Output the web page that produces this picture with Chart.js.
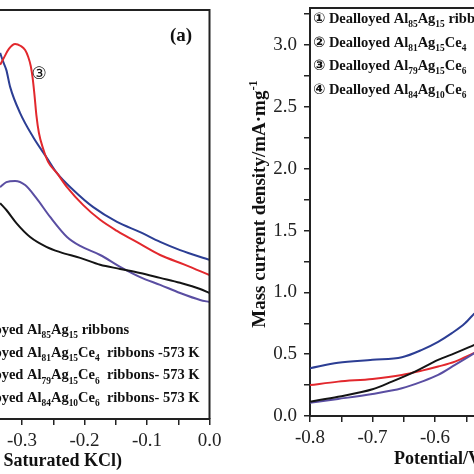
<!DOCTYPE html>
<html>
<head>
    <title>Dealloyed ribbons - polarization curves</title>
    <style>
        html, body {
            margin: 0;
            padding: 0;
            background: #fff;
            overflow: hidden;
            width: 474px;
            height: 474px;
        }

        #leftChart {
            position: absolute;
            left: 0;
            top: 0;
        }

        #rightChart {
            position: absolute;
            left: 237px;
            top: 0;
        }
    </style>
</head>
<body>
    <canvas id="leftChart" width="237" height="474"></canvas>
    <canvas id="rightChart" width="480" height="474"></canvas>

    <script src="https://cdn.jsdelivr.net/npm/chart.js"></script>
    <script>
        // ---- panel (a), left: potential (V) and current (arbitrary units, axis cropped) ----
        var aE1 = [-0.335, -0.325, -0.309, -0.287, -0.261, -0.239, -0.207, -0.175, -0.143, -0.111, -0.079, -0.047, -0.015, 0.0];
        var aJ1 = [52.8, 51.1, 47.9, 44.5, 42.1, 40.8, 39.4, 37.7, 36.7, 35.7, 34.5, 33.3, 31.8, 30.8];

        var aE2 = [-0.335, -0.325, -0.311, -0.295, -0.277, -0.255, -0.228, -0.207, -0.175, -0.143, -0.111, -0.079, -0.047, -0.015, 0.0];
        var aJ2 = [56.7, 57.9, 58.2, 57.2, 54.0, 49.4, 44.5, 42.3, 40.1, 37.2, 34.7, 32.8, 30.8, 29.1, 28.6];

        var aE3 = [-0.335, -0.329, -0.321, -0.311, -0.302, -0.295, -0.290, -0.286, -0.283, -0.280, -0.277, -0.273, -0.266, -0.258, -0.244, -0.228, -0.202, -0.175, -0.148, -0.111, -0.079, -0.039, 0.0];
        var aJ3 = [86.6, 88.3, 90.5, 91.7, 91.2, 90.2, 88.5, 86.3, 83.4, 79.2, 74.3, 70.0, 66.0, 62.8, 60.1, 56.7, 52.3, 48.7, 46.0, 42.8, 40.1, 37.7, 35.2];

        var aE4 = [-0.335, -0.330, -0.325, -0.319, -0.303, -0.282, -0.260, -0.244, -0.218, -0.186, -0.148, -0.111, -0.079, -0.047, 0.0];
        var aJ4 = [89.5, 87.3, 85.3, 81.2, 74.8, 68.9, 63.8, 60.1, 56.0, 51.8, 48.2, 45.7, 43.3, 41.3, 38.9];

        var leftTicks = [-0.3, -0.25, -0.2, -0.15, -0.1, -0.05, 0.0];
        var leftTickLabels = ['-0.3', '', '-0.2', '', '-0.1', '', '0.0'];

        // ---- right panel: mass current density (mA/mg) vs potential (V) ----
        var bE1 = [-0.8, -0.755, -0.70, -0.669, -0.632, -0.595, -0.568, -0.537];
        var bJ1 = [0.116, 0.156, 0.216, 0.278, 0.359, 0.454, 0.508, 0.575];

        var bE2 = [-0.8, -0.755, -0.70, -0.653, -0.621, -0.595, -0.568, -0.537];
        var bJ2 = [0.108, 0.138, 0.178, 0.224, 0.278, 0.332, 0.413, 0.508];

        var bE3 = [-0.8, -0.755, -0.70, -0.653, -0.621, -0.595, -0.568, -0.537];
        var bJ3 = [0.25, 0.278, 0.30, 0.332, 0.367, 0.40, 0.44, 0.51];

        var bE4 = [-0.8, -0.755, -0.70, -0.653, -0.621, -0.595, -0.573, -0.552, -0.537];
        var bJ4 = [0.386, 0.43, 0.454, 0.475, 0.535, 0.60, 0.67, 0.75, 0.83];

        var rightXTicks = [-0.8, -0.75, -0.7, -0.65, -0.6, -0.55, -0.5, -0.45, -0.4, -0.35, -0.3, -0.25, -0.2];
        var rightXLabels = ['-0.8', '', '-0.7', '', '-0.6', '', '-0.5', '', '-0.4', '', '-0.3', '', '-0.2'];
        var rightYTicks = [0, 0.25, 0.5, 0.75, 1.0, 1.25, 1.5, 1.75, 2.0, 2.25, 2.5, 2.75, 3.0, 3.25];
        var rightYLabels = ['0.0', '', '0.5', '', '1.0', '', '1.5', '', '2.0', '', '2.5', '', '3.0', ''];

        var seriesColors = ['#141414', '#5a4ea2', '#e2282d', '#2c3e94'];
        var seriesNames = [
            '\u2460 Dealloyed Al_{85}Ag_{15} ribbons',
            '\u2461 Dealloyed Al_{81}Ag_{15}Ce_{4}  ribbons -573 K',
            '\u2462 Dealloyed Al_{79}Ag_{15}Ce_{6}  ribbons- 573 K',
            '\u2463 Dealloyed Al_{84}Ag_{10}Ce_{6}  ribbons- 573 K'
        ];
        var xTitle = 'Potential/V (vs. Saturated KCl)';
        var yTitle = 'Mass current density/mA\u00b7mg^{-1}';

        var serif = "'Liberation Serif', 'Times New Roman', 'DejaVu Sans', 'Noto Sans CJK SC', serif";

        function pts(xs, ys) {
            return xs.map(function (x, i) { return { x: x, y: ys[i] }; });
        }

        function line(xs, ys, color) {
            return {
                data: pts(xs, ys),
                borderColor: color,
                borderWidth: 2,
                pointRadius: 0,
                fill: false,
                cubicInterpolationMode: 'monotone'
            };
        }

        // text with _{sub} and ^{sup} parts
        function richParts(str) {
            return str.split(/(_\{[^}]*\}|\^\{[^}]*\})/).filter(function (p) { return p; }).map(function (p) {
                if (p[0] === '_') return { t: p.slice(2, -1), m: 1 };
                if (p[0] === '^') return { t: p.slice(2, -1), m: -1 };
                return { t: p, m: 0 };
            });
        }

        function richWidth(ctx, str, size, bold) {
            var w = 0;
            richParts(str).forEach(function (p) {
                ctx.font = (bold ? 'bold ' : '') + (p.m ? size * 0.65 : size) + 'px ' + serif;
                w += ctx.measureText(p.t).width;
            });
            return w;
        }

        function drawRich(ctx, str, x, y, size, bold) {
            ctx.textAlign = 'left';
            ctx.textBaseline = 'alphabetic';
            richParts(str).forEach(function (p) {
                ctx.font = (bold ? 'bold ' : '') + (p.m ? size * 0.65 : size) + 'px ' + serif;
                var dy = p.m === 1 ? size * 0.3 : (p.m === -1 ? -size * 0.42 : 0);
                ctx.fillText(p.t, x, y + dy);
                x += ctx.measureText(p.t).width;
            });
            return x;
        }

        function frame(ctx, area) {
            ctx.save();
            ctx.strokeStyle = '#222';
            ctx.lineWidth = 2;
            ctx.beginPath();
            ctx.moveTo(area.left, area.top);
            ctx.lineTo(area.right, area.top);
            ctx.lineTo(area.right, area.bottom);
            ctx.stroke();
            ctx.restore();
        }

        function axisOptions(ticks, labels, fitFn) {
            return {
                type: 'linear',
                min: ticks[0],
                afterBuildTicks: function (scale) {
                    scale.ticks = ticks.map(function (v) { return { value: v }; });
                },
                afterFit: function (scale) {
                    fitFn(scale);
                    // no extra room for end labels, the plot box is fixed by layout padding
                    scale.paddingTop = 0;
                    scale.paddingBottom = 0;
                    scale.paddingLeft = 0;
                    scale.paddingRight = 0;
                },
                grid: { drawOnChartArea: false, drawTicks: true, tickLength: 6, color: '#222', lineWidth: 1.5 },
                border: { display: true, color: '#222', width: 2 },
                ticks: {
                    autoSkip: false,
                    maxRotation: 0,
                    padding: 5,
                    color: '#222',
                    font: { family: serif, size: 19 },
                    callback: function (value, index) { return labels[index]; }
                }
            };
        }

        var leftX = axisOptions(leftTicks, leftTickLabels, function (scale) { scale.height = 55; });
        leftX.min = -0.3352;
        leftX.max = 0;

        new Chart(document.getElementById('leftChart').getContext('2d'), {
            type: 'line',
            data: {
                datasets: [
                    line(aE1, aJ1, seriesColors[0]),
                    line(aE2, aJ2, seriesColors[1]),
                    line(aE3, aJ3, seriesColors[2]),
                    line(aE4, aJ4, seriesColors[3])
                ]
            },
            options: {
                responsive: false,
                animation: false,
                layout: { padding: { left: 0, right: 27.5, top: 10, bottom: 0 } },
                plugins: { legend: { display: false }, tooltip: { enabled: false } },
                scales: {
                    x: leftX,
                    y: { display: false, min: 0, max: 100 }
                }
            },
            plugins: [{
                id: 'leftDecor',
                afterDraw: function (chart) {
                    var ctx = chart.ctx;
                    var area = chart.chartArea;
                    frame(ctx, area);
                    ctx.save();
                    ctx.fillStyle = '#111';
                    ctx.font = 'bold 19px ' + serif;
                    ctx.textAlign = 'center';
                    ctx.fillText('(a)', 181, 41);
                    ctx.font = '17px ' + serif;
                    ctx.fillText('\u2462', 39, 79);
                    // legend, cropped on the left like the original
                    ctx.font = 'bold 14.5px ' + serif;
                    var x0 = 27 - ctx.measureText('\u2460 Dealloyed ').width;
                    seriesNames.forEach(function (name, i) {
                        drawRich(ctx, name, x0, 334 + i * 22.7, 14.5, true);
                    });
                    ctx.font = 'bold 18px ' + serif;
                    ctx.textAlign = 'right';
                    ctx.fillText(xTitle, 122, 466);
                    ctx.restore();
                }
            }]
        });

        var rightX = axisOptions(rightXTicks, rightXLabels, function (scale) { scale.height = 58; });
        rightX.max = -0.2;
        var rightY = axisOptions(rightYTicks, rightYLabels, function (scale) { scale.width = 73; });
        rightY.max = 3.3;
        rightY.ticks.padding = 7;

        new Chart(document.getElementById('rightChart').getContext('2d'), {
            type: 'line',
            data: {
                datasets: [
                    line(bE1, bJ1, seriesColors[0]),
                    line(bE2, bJ2, seriesColors[1]),
                    line(bE3, bJ3, seriesColors[2]),
                    line(bE4, bJ4, seriesColors[3])
                ]
            },
            options: {
                responsive: false,
                animation: false,
                layout: { padding: { left: 0, right: 32, top: 8, bottom: 0 } },
                plugins: { legend: { display: false }, tooltip: { enabled: false } },
                scales: { x: rightX, y: rightY }
            },
            plugins: [{
                id: 'rightDecor',
                afterDraw: function (chart) {
                    var ctx = chart.ctx;
                    var area = chart.chartArea;
                    frame(ctx, area);
                    ctx.save();
                    ctx.fillStyle = '#111';
                    seriesNames.forEach(function (name, i) {
                        drawRich(ctx, name, 76, 23 + i * 23.5, 14.5, true);
                    });
                    // rotated y title
                    var w = richWidth(ctx, yTitle, 19, true);
                    ctx.translate(28, 204);
                    ctx.rotate(-Math.PI / 2);
                    drawRich(ctx, yTitle, -w / 2, 0, 19, true);
                    ctx.restore();
                    ctx.save();
                    ctx.fillStyle = '#111';
                    ctx.font = 'bold 18px ' + serif;
                    ctx.textAlign = 'left';
                    ctx.fillText(xTitle, 157, 464);
                    ctx.restore();
                }
            }]
        });
    </script>
</body>
</html>
